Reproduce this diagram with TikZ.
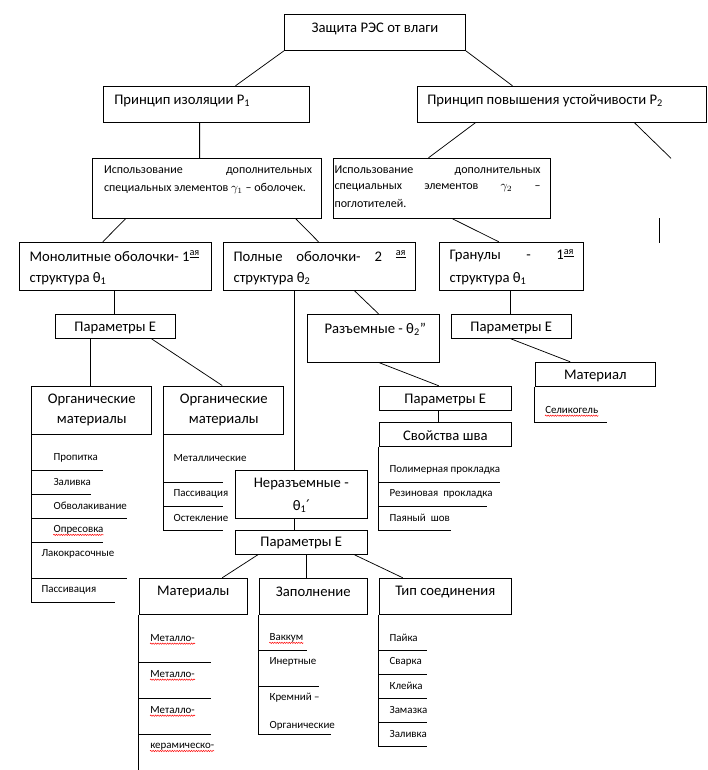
\documentclass[tikz,border=0pt]{standalone}
\usepackage{fontspec}
\setmainfont{Carlito}
\newfontfamily\dejavufam{DejaVu Sans}
\usetikzlibrary{calc,fit,decorations.pathmorphing}
\tikzset{
  box/.style={draw, line width=0.75pt, inner sep=0pt, rectangle},
  conn/.style={line width=0.55pt},
  lst/.style={line width=0.75pt},
  txt/.style={inner sep=0pt, font=\fontsize{11}{13}\selectfont},
  mid/.style={inner sep=0pt, font=\fontsize{9}{11}\selectfont},
  small/.style={inner sep=0pt, font=\fontsize{8.2}{10}\selectfont},
  squig/.style={draw=red, line width=0.35pt, decorate, decoration={snake, segment length=1.8pt, amplitude=0.5pt}},
}
\newcommand\redwave[1]{\draw[squig] ($(#1.base west)+(0,2.2)$) -- ($(#1.base east)+(0,2.2)$);}
\newcommand\sups[1]{\textsuperscript{\underline{#1}}}
\begin{document}
\begin{tikzpicture}[x=0.75pt,y=-0.75pt]
\useasboundingbox (0,0) rectangle (707,770);
\fill[white] (0,0) rectangle (707,770);

% ---------- boxes ----------
\node[box, fit={(284.5,14.3) (465.3,50.3)}] (top) {};
\node[box, fit={(103.8,86.3) (309,122.3)}] (p1) {};
\node[box, fit={(417.3,86.3) (706.4,122.3)}] (p2) {};
\node[box, fit={(92,158.3) (321,218.3)}] (g1) {};
\node[box, fit={(333,158.3) (550,218.3)}] (g2) {};
\node[box, fit={(19.3,242.3) (211.3,290.3)}] (mono) {};
\node[box, fit={(223.3,242.3) (415.3,290.3)}] (full) {};
\node[box, fit={(439.3,242.3) (583.3,290.3)}] (gran) {};
\node[box, fit={(55.3,314.3) (175.3,338.3)}] (parL) {};
\node[box, fit={(307.3,314.3) (439.3,362.3)}] (razm) {};
\node[box, fit={(451.3,314.3) (571.3,338.3)}] (parR) {};
\node[box, fit={(31.7,386) (151.7,434.3)}] (org1) {};
\node[box, fit={(163.7,386) (283.7,434.3)}] (org2) {};
\node[box, fit={(535.3,362.3) (655.3,386.3)}] (mat1) {};
\node[box, fit={(379.3,386.3) (511.3,410.3)}] (parM) {};
\node[box, fit={(379.3,422.3) (511.3,446.3)}] (svo) {};
\node[box, fit={(235.3,470.3) (367.3,518.3)}] (neraz) {};
\node[box, fit={(235.3,530.3) (367.3,554.3)}] (parB) {};
\node[box, fit={(139.3,578.3) (247.3,614.3)}] (mats) {};
\node[box, fit={(259.3,578.3) (367.3,614.3)}] (zap) {};
\node[box, fit={(379.3,578.3) (511.3,614.3)}] (tip) {};

% ---------- free ends ----------
\coordinate (fr1) at (671,158.3);
\coordinate (fr2a) at (659,218.3);
\coordinate (fr2b) at (659,243);

% ---------- connectors ----------
\draw[conn] (top.south west) -- ($(p1.north west)+(132.2,0)$);
\draw[conn] (top.south east) -- ($(p2.north west)+(95.7,0)$);
\draw[lst] ($(p1.south west)+(96.2,0)$) -- ($(g1.north west)+(108,0)$);
\draw[conn] ($(p2.south west)+(58.5,0)$) -- ($(g2.north west)+(96,0)$);
\draw[conn] ($(p2.south west)+(217.7,0)$) -- (fr1);
\draw[lst] (fr2a) -- (fr2b);
\draw[conn] ($(g1.south west)+(34,0)$) -- ($(mono.north west)+(84,0)$);
\draw[conn] ($(g1.south west)+(204.3,0)$) -- ($(full.north west)+(95.7,0)$);
\draw[conn] ($(g2.south west)+(120,0)$) -- ($(gran.north west)+(60,0)$);
\draw[lst] ($(mono.south west)+(96,0)$) -- ($(parL.north west)+(60,0)$);
\draw[lst] ($(parL.south west)+(36,0)$) -- ($(org1.north west)+(59.6,0)$);
\draw[conn] ($(parL.south west)+(96.7,0)$) -- ($(org2.north west)+(59,0)$);
\draw[lst] ($(full.south west)+(72,0)$) -- ($(neraz.north west)+(60,0)$);
\draw[conn] ($(full.south west)+(131.7,0)$) -- ($(razm.north west)+(71.7,0)$);
\draw[lst] ($(gran.south west)+(72,0)$) -- ($(parR.north west)+(60,0)$);
\draw[conn] ($(parR.south west)+(60,0)$) -- ($(mat1.north west)+(35.4,0)$);
\draw[conn] ($(razm.south west)+(72.7,0)$) -- ($(parM.north west)+(60,0)$);
\draw[lst] ($(parM.south west)+(60,0)$) -- ($(svo.north west)+(60,0)$);
\draw[lst] ($(neraz.south west)+(60,0)$) -- ($(parB.north west)+(60,0)$);
\draw[conn] ($(parB.south west)+(23,0)$) -- ($(mats.north west)+(83.4,0)$);
\draw[lst] ($(parB.south west)+(72,0)$) -- ($(zap.north west)+(48,0)$);
\draw[conn] ($(parB.south west)+(119.7,0)$) -- ($(tip.north west)+(24,0)$);

% ---------- open lists ----------
\draw[lst] (org1.south west) -- ++(0,168);
\foreach \yy/\ll in {36/71.6, 60/60, 84/96, 108/71.6, 144/96, 168/84}
  \draw[lst] ($(org1.south west)+(0,\yy)$) -- ++(\ll,0);
\draw[lst] (org2.south west) -- ++(0,96);
\foreach \yy in {48,72,96}
  \draw[lst] ($(org2.south west)+(0,\yy)$) -- ++(59.6,0);
\draw[lst] (svo.south west) -- ++(0,84);
\foreach \yy/\ll in {36/120.7, 60/108.4, 84/72.4}
  \draw[lst] ($(svo.south west)+(0,\yy)$) -- ++(\ll,0);
\draw[lst] (mat1.south west) -- ++(0,36) -- ++(72,0);
\draw[lst] (mats.south west) -- ++(0,156);
\foreach \yy in {48,84,120}
  \draw[lst] ($(mats.south west)+(0,\yy)$) -- ++(72.4,0);
\draw[lst] (zap.south west) -- ++(0,120);
\foreach \yy/\ll in {36/48.4, 72/60.4, 120/72.4}
  \draw[lst] ($(zap.south west)+(0,\yy)$) -- ++(\ll,0);
\draw[lst] (tip.south west) -- ++(0,132);
\foreach \yy in {36,60,84,108,132}
  \draw[lst] ($(tip.south west)+(0,\yy)$) -- ++(48,0);

% ---------- texts ----------
\node[txt] (ttop) at (375,29) {Защита РЭС от влаги};
\node[txt, anchor=west] (tp1) at (114,101) {Принцип изоляции P\textsubscript{1}};
\node[txt, anchor=west] (tp2) at (427,101) {Принцип повышения устойчивости P\textsubscript{2}};

\node[mid, anchor=west] (tg1a) at (103.8,171) {\hbox to 156pt{Использование\hfill дополнительных}};
\node[mid, anchor=west] (tg1b) at (103.8,189) {специальных элементов $\gamma_1$ – оболочек.};
\node[mid, anchor=west] (tg2a) at (334.4,171) {\hbox to 154.5pt{Использование\hfill дополнительных}};
\node[mid, anchor=west] (tg2b) at (334.4,188) {\hbox to 154.5pt{специальных\hfill элементов\hfill $\gamma_2$\hfill –}};
\node[mid, anchor=west] (tg2c) at (334.4,203.5) {поглотителей.};

\node[txt, anchor=west] (tmo1) at (29.3,256) {Монолитные оболочки- 1\sups{ая}};
\node[txt, anchor=west] (tmo2) at (29.3,278.5) {структура θ\textsubscript{1}};
\node[txt, anchor=west] (tfu1) at (233.3,256) {\hbox to 129.5pt{Полные\hfill оболочки-\hfill 2\hfill\sups{ая}}};
\node[txt, anchor=west] (tfu2) at (233.3,278.5) {структура θ\textsubscript{2}};
\node[txt, anchor=west] (tgr1) at (449.3,256) {\hbox to 93.5pt{Гранулы\hfill -\hfill 1\sups{ая}}};
\node[txt, anchor=west] (tgr2) at (449.3,278.5) {структура θ\textsubscript{1}};

\node[txt] (tparL) at (115.3,327.5) {Параметры E};
\node[txt] (trazm) at (375.3,329) {Разъемные - θ\textsubscript{2}”};
\node[txt] (tparR) at (511.3,327.5) {Параметры E};

\node[txt] (to1a) at (91.7,400) {Органические};
\node[txt] (to1b) at (91.7,421.5) {материалы};
\node[txt] (to2a) at (223.7,400) {Органические};
\node[txt] (to2b) at (223.7,421.5) {материалы};

\node[txt] (tmat1) at (595.3,375.5) {Материал};
\node[small, anchor=west] (tsel) at (545,410) {Селикогель};
\redwave{tsel}

\node[txt] (tparM) at (445.3,399.5) {Параметры E};
\node[txt] (tsvo) at (445.3,435.5) {Свойства шва};
\node[small, anchor=west] (ts1) at (389.3,470) {Полимерная прокладка};
\node[small, anchor=west] (ts2) at (389.3,494) {Резиновая\ \ прокладка};
\node[small, anchor=west] (ts3) at (389.3,518) {Паяный\ \ шов};

\node[small, anchor=west] (l1) at (53.3,458) {Пропитка};
\node[small, anchor=west] (l2) at (53.3,482) {Заливка};
\node[small, anchor=west] (l3) at (53.3,506) {Обволакивание};
\node[small, anchor=west] (l4) at (53.3,530) {Опресовка};
\redwave{l4}
\node[small, anchor=west] (l5) at (41.3,554) {Лакокрасочные};
\node[small, anchor=west] (l6) at (41.3,590) {Пассивация};

\node[small, anchor=west] (m1) at (173.3,458) {Металлические};
\node[small, anchor=west] (m2) at (173.3,494) {Пассивация};
\node[small, anchor=west] (m3) at (173.3,518) {Остекление};

\node[txt] (tner1) at (301.3,483.5) {Неразъемные -};
\node[txt] (tner2) at (301.3,506) {θ\textsubscript{1}{\dejavufam ′}};
\node[txt] (tparB) at (301.3,543) {Параметры E};

\node[txt] (tmats) at (193.3,592) {Материалы};
\node[txt] (tzap) at (313.3,592) {Заполнение};
\node[txt] (ttip) at (445.3,592) {Тип соединения};

\node[small, anchor=west] (a1) at (150,638) {Металло-};
\node[small, anchor=west] (a2) at (150,674) {Металло-};
\node[small, anchor=west] (a3) at (150,710) {Металло-};
\node[small, anchor=west] (a4) at (150,747) {керамическо-};
\redwave{a1}\redwave{a2}\redwave{a3}\redwave{a4}

\node[small, anchor=west] (z1) at (269.3,638) {Ваккум};
\redwave{z1}
\node[small, anchor=west] (z2) at (269.3,662) {Инертные};
\node[small, anchor=west] (z3) at (269.3,698) {Кремний –};
\node[small, anchor=west] (z4) at (269.3,726) {Органические};

\node[small, anchor=west] (c1) at (389.3,638) {Пайка};
\node[small, anchor=west] (c2) at (389.3,662) {Сварка};
\node[small, anchor=west] (c3) at (389.3,686) {Клейка};
\node[small, anchor=west] (c4) at (389.3,710) {Замазка};
\node[small, anchor=west] (c5) at (389.3,734) {Заливка};
\end{tikzpicture}
\end{document}
